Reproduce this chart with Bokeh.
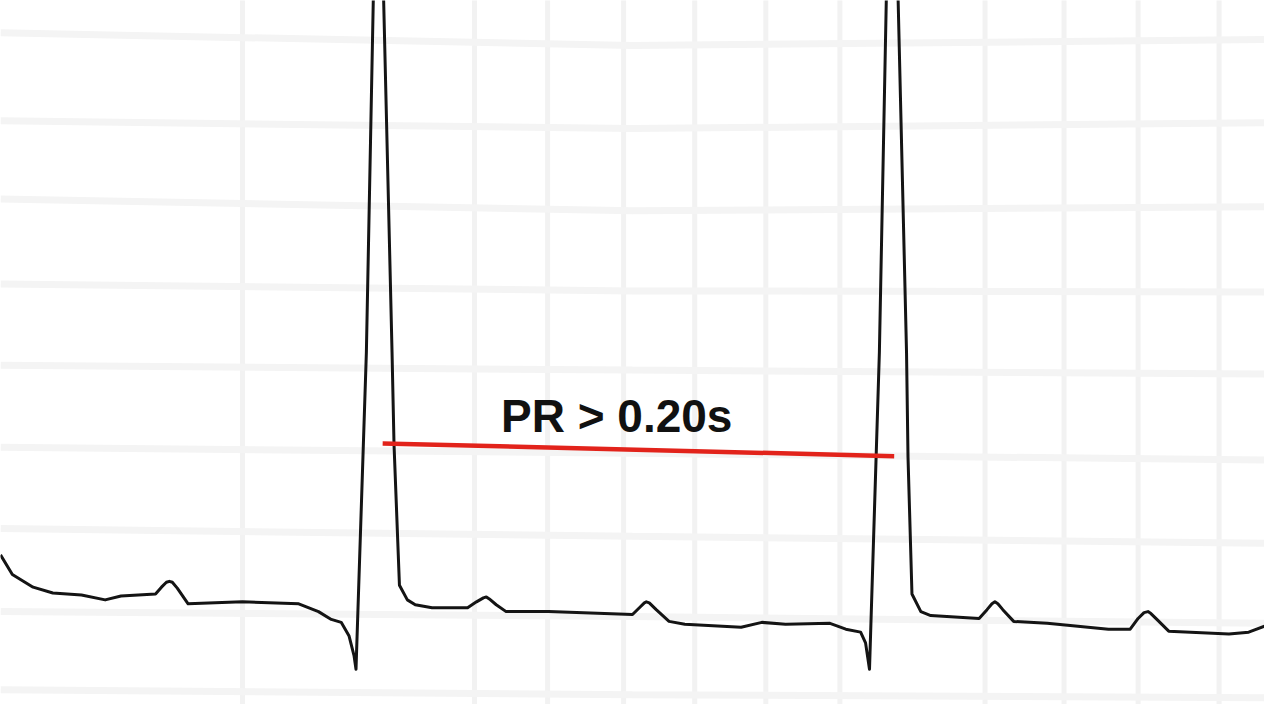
from bokeh.plotting import figure
from bokeh.models import Range1d
from bokeh.core.properties import value
from bokeh.embed import file_html
from bokeh.resources import INLINE

# ECG trace (time axis, signal axis drawn top-down)
ecg_t = [0, 12, 33, 53, 82, 106, 122, 157, 163, 168, 171, 174, 179, 190, 245, 302, 322, 335, 345, 353, 358, 360,
         370.5, 377.5, 382.2, 388, 396.5, 398.5, 404, 412, 420, 437, 473, 482, 489, 492, 495, 502, 512, 555, 640,
         648, 652, 654, 657, 664, 677, 693, 750, 771, 795, 840, 856, 871, 876, 880,
         890, 897, 903, 909, 917.5, 919, 923, 932, 942, 991, 999, 1004, 1007, 1010, 1015, 1026, 1060, 1122, 1144,
         1152, 1158, 1162, 1165, 1171, 1183, 1244, 1264, 1280]
ecg_v = [567, 587, 600, 606, 608, 613, 609, 607, 600, 595, 594, 595, 601, 617, 615, 617, 625, 633, 636, 650, 670, 684,
         360, 0, -241, 0, 360, 454, 598, 613, 618, 621, 621, 615, 611, 610, 612, 618, 625, 625, 628,
         620, 616, 615, 616, 623, 635, 638, 641, 636, 638, 637, 643, 646, 657, 684,
         360, 0, -270, 0, 360, 467, 607, 625, 629, 632, 623, 617, 615, 617, 623, 635, 637, 643, 643,
         632, 626, 625, 627, 633, 645, 648, 646, 640]

# PR interval marker
pr_t = [387, 905]
pr_v = [453, 466]
label = "PR > 0.20s"

# background paper grid
grid_vx = [245, 480, 554, 631, 703, 775, 850, 997, 1077, 1152, 1234]
grid_hy_left = [33, 123, 203, 290, 373, 457, 540, 625, 705]
grid_hy_mid = [46, 131, 215, 297, 378, 463, 548, 630, 710]
grid_hy_right = [40, 125, 211, 298, 382, 470, 555, 637, 713]

p = figure(width=1264, height=704, x_range=Range1d(0, 1280), y_range=Range1d(720, 0),
           output_backend="svg", toolbar_location=None, min_border=0)
p.axis.visible = False
p.grid.visible = False
p.outline_line_color = None
p.background_fill_color = "white"
p.border_fill_color = "white"

p.segment(x0=grid_vx, y0=[-20] * len(grid_vx), x1=grid_vx, y1=[740] * len(grid_vx),
          line_color="#f2f2f2", line_width=5)
p.multi_line(xs=[[0, 640, 1280]] * len(grid_hy_left),
             ys=[[a, b, c] for a, b, c in zip(grid_hy_left, grid_hy_mid, grid_hy_right)],
             line_color="#f4f4f4", line_width=7)

p.line(ecg_t, ecg_v, line_color="#141414", line_width=3, line_join="round")
p.line(pr_t, pr_v, line_color="#e2231b", line_width=4.5)

p.text(x=[624], y=[425], text=[label], text_align="center", text_baseline="alphabetic",
       text_font=value("Liberation Sans"), text_font_style="bold", text_font_size="46px",
       text_color="#111111")

open("out.html", "w").write(file_html(p, INLINE))
